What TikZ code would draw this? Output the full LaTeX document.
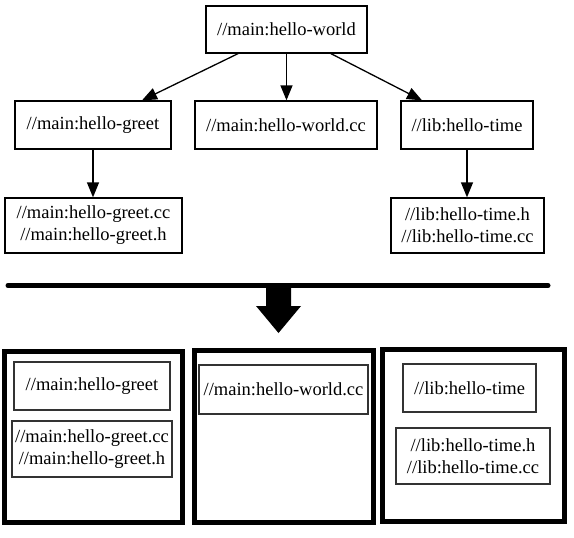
\documentclass[tikz,border=0pt]{standalone}
\usepackage{fontspec}
\setmainfont{Liberation Serif}
\usetikzlibrary{arrows.meta}
\tikzset{
  box/.style={draw=black, line width=1.3pt, inner sep=0pt, align=center,
    font=\fontsize{18.5}{22}\selectfont},
  ibox/.style={box, draw=black!80, line width=1.2pt},
  panel/.style={draw=black, line width=5.5pt, inner sep=0pt},
  link/.style={line width=1.3pt, -{Triangle[length=15pt,width=12pt]}},
}
\begin{document}
\begin{tikzpicture}[x=1pt,y=-1pt]
\useasboundingbox (0,0) rectangle (574,538);
% top graph
\node[box, minimum width=161pt, minimum height=47pt] (hw) at (286.5,29.5) {//main:hello-world};
\node[box, minimum width=156pt, minimum height=48pt] (greet) at (93,125) {//main:hello-greet};
\node[box, minimum width=182pt, minimum height=48pt] (worldcc) at (286,125) {//main:hello-world.cc};
\node[box, minimum width=132pt, minimum height=48pt] (time) at (467,125) {//lib:hello-time};
\node[box, minimum width=177pt, minimum height=55pt] (greetcc) at (93.5,225.5) {//main:hello-greet.cc\\//main:hello-greet.h};
\node[box, minimum width=153pt, minimum height=55pt] (timeh) at (467.5,225.5) {//lib:hello-time.h\\//lib:hello-time.cc};
\draw[link] ([xshift=-48.5pt]hw.south) -- ([xshift=49pt]greet.north);
\draw[link] (hw.south) -- (hw.south |- worldcc.north);
\draw[link] ([xshift=44.5pt]hw.south) -- ([xshift=-45pt]time.north);
\draw[link] (greet.south) -- (greet.south |- greetcc.north);
\draw[link] (time.south) -- (time.south |- timeh.north);
% separator and big arrow
\coordinate (sepL) at (8,285.5);
\coordinate (sepR) at (548,285.5);
\draw[line width=5pt, line cap=round] (sepL) -- (sepR);
\fill[black, line join=round] (266,284) -- (291,284) -- (291,306) -- (301,306) -- (278.5,333) -- (256,306) -- (266,306) -- cycle;
% panels
\node[panel, minimum width=178pt, minimum height=171pt] (p1) at (93.5,437) {};
\node[panel, minimum width=179pt, minimum height=172pt] (p2) at (284,436.5) {};
\node[panel, minimum width=182pt, minimum height=172pt] (p3) at (473.5,435.5) {};
\node[ibox, minimum width=156pt, minimum height=48pt] (p1a) at (92,386) {//main:hello-greet};
\node[ibox, minimum width=160pt, minimum height=56pt] (p1b) at (92,449) {//main:hello-greet.cc\\//main:hello-greet.h};
\node[ibox, minimum width=169pt, minimum height=49pt] (p2a) at (283.5,389.5) {//main:hello-world.cc};
\node[ibox, minimum width=133pt, minimum height=48pt] (p3a) at (469.5,388) {//lib:hello-time};
\node[ibox, minimum width=154pt, minimum height=56pt] (p3b) at (473,456) {//lib:hello-time.h\\//lib:hello-time.cc};
\end{tikzpicture}
\end{document}
